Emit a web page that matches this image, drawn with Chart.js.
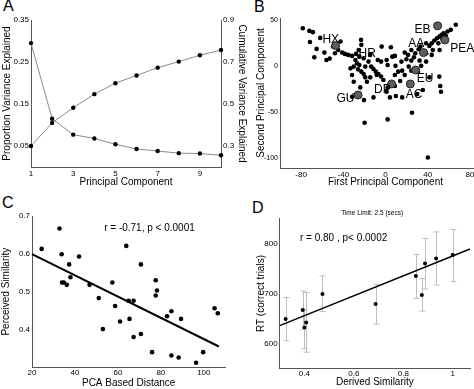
<!DOCTYPE html>
<html>
<head>
<meta charset="utf-8">
<script src="https://cdn.jsdelivr.net/npm/chart.js@4.4.0/dist/chart.umd.min.js"></script>
<style>
html, body { margin: 0; padding: 0; background: #fff; overflow: hidden; }
body { width: 474px; height: 389px; position: relative; font-family: 'Liberation Sans', Arial, sans-serif; }
canvas { position: absolute; }
.letter { position: absolute; font-size: 16px; line-height: 16px; color: #000; }
</style>
</head>
<body>
<div class="letter" style="left:3px;top:-2px">A</div>
<div class="letter" style="left:254px;top:-1px">B</div>
<div class="letter" style="left:2px;top:195px">C</div>
<div class="letter" style="left:252px;top:200px">D</div>

<canvas id="pa" width="250" height="195" style="left:0;top:0"></canvas>
<canvas id="pb" width="247" height="195" style="left:253px;top:0"></canvas>
<canvas id="pc" width="237" height="194" style="left:0;top:195px"></canvas>
<canvas id="pd" width="221" height="194" style="left:253px;top:195px"></canvas>

<script>
// A: variance explained per principal component
var components = [1, 2, 3, 4, 5, 6, 7, 8, 9, 10];
var propVariance = [0.295, 0.115, 0.077, 0.068, 0.054, 0.043, 0.038, 0.033, 0.032, 0.028];
var cumVariance = [0.30, 0.41, 0.482, 0.547, 0.599, 0.636, 0.673, 0.702, 0.732, 0.757];
var pcTicks = [1, 3, 5, 7, 9];
var propTicks = [0.05, 0.15, 0.25, 0.35];
var cumTicks = [0.3, 0.5, 0.7, 0.9];

// B: first vs second principal component
var pc1 = [-78.4, -72.2, -68.8, -71.6, -61.9, -65.3, -67.5, -57.9, -56.0, -52.9,
  -49.7, -42.6, -44.8, -41.0, -38.5, -35.4, -31.7, -27.9, -23.2, -22.9,
  -28.5, -27.0, -24.8, -30.1, -33.2, -26.0, -22.9, -20.7, -19.2, -31.7,
  -30.1, -24.8, -20.7, -16.1, -13.6, -11.4, -9.2, -6.7, -4.2, -2.0,
  -7.3, -4.2, -3.6, 5.1, 6.4, 8.9, 15.1, 18.2, 19.8, 9.5,
  12.0, 15.8, 18.2, 13.9, 8.9, 2.0, 4.2, 9.8, 15.8, 24.5,
  27.0, 28.2, 31.4, 33.2, 38.5, 41.6, 43.8, 46.3, 48.8, 51.0,
  53.2, 55.1, 58.8, 61.9, 66.6, 50.1, 51.3, 43.8, 38.5, 32.3,
  22.0, 24.5, 33.8, 41.6, 51.0, 51.9, 52.6, 35.4, 30.1, 25.1,
  2.0, -19.8, 40.1, -20.4, -11.4, -31.7, -23.9, -17.6, -14.5, 1.1,
  -8.3, -25.4, -14.5, 1.1, 2.0, 30.7, 8.9, -47.9, -19.2, 21.4,
  24.5, 44.8, 57.2, 54.1, 38.5];
var pc2 = [40.9, 38.0, 36.6, 26.0, 30.4, 18.4, 9.3, 14.4, 6.4, 7.9,
  21.0, 26.4, 17.3, 14.4, 13.0, 11.9, 10.8, 13.0, 28.2, 22.8,
  6.4, 2.8, 1.0, -0.8, -2.7, -3.8, -6.3, -8.8, -12.5, -9.9,
  -17.2, 10.0, 8.2, 4.6, -0.8, -3.4, -6.3, -8.8, -11.7, -15.4,
  6.4, 4.6, 20.9, 20.2, 10.0, 10.8, 4.6, 14.4, 7.1, 0.0,
  -6.3, -5.2, -9.9, -16.5, -21.9, -23.4, -34.3, -32.8, -34.3, 5.7,
  9.3, 13.7, 18.0, 20.9, 24.6, 21.7, 24.6, 27.5, 30.0, 31.8,
  33.7, 35.5, 37.3, 39.1, 44.6, 24.6, 17.3, 11.9, 4.6, 5.7,
  -0.8, -5.2, 0.0, -12.5, -11.7, -21.9, -28.1, -26.3, -30.6, -51.0,
  -58.2, -61.9, -99.6, -37.2, -34.3, -33.5, -23.4, -17.2, -12.5, -28.1,
  -9.9, 17.3, 11.9, 6.4, 1.0, -6.3, -9.9, 13.7, -0.8, 11.9,
  17.3, 17.3, 32.6, 28.9, 13.7];
var markedPc1 = [-47.3, 49.4, 36.0, 56.3, 28.5, -26.0, 5.8, 23.5];
var markedPc2 = [22.0, 43.5, 14.4, 28.2, -4.5, -31.7, -19.7, -19.7];
var odorNames = ['HX', 'HR', 'EB', 'AA', 'PEA', 'EU', 'GU', 'DP', 'AC'];
var odorNameX = [-51.9, -17.3, 35.1, 29.2, 72.8, 37.6, -37.9, -3.0, 27.0];
var odorNameY = [28.2, 13.0, 39.8, 24.2, 19.1, -13.6, -35.4, -25.5, -31.0];
var pc1Ticks = [-80, -40, 0, 40, 80];
var pc2Ticks = [-100, -50, 0, 50];

// C: PCA distance vs perceived similarity
var pcaDistance = [24.5, 32.8, 33.8, 37.3, 41.9, 37.9, 34.0, 34.8, 36.2, 46.8,
  51.1, 57.4, 58.7, 61.0, 53.0, 63.9, 65.0, 67.3, 65.4, 67.3,
  70.7, 70.7, 77.6, 78.2, 77.6, 75.9, 82.9, 84.9, 89.4, 84.9,
  88.3, 96.4, 99.7, 105.0, 106.5];
var perceived = [0.613, 0.667, 0.599, 0.572, 0.593, 0.538, 0.524, 0.524, 0.518, 0.518,
  0.483, 0.524, 0.462, 0.421, 0.401, 0.621, 0.476, 0.476, 0.428, 0.380,
  0.388, 0.572, 0.530, 0.503, 0.490, 0.340, 0.435, 0.448, 0.428, 0.331,
  0.326, 0.312, 0.340, 0.456, 0.443];
var distFitX = [20, 107];
var distFitY = [0.599, 0.355];
var distTicks = [20, 40, 60, 80, 100];
var simTicks = [0.4, 0.5, 0.6, 0.7];

// D: derived similarity vs reaction time
var derivedSim = [0.324, 0.393, 0.400, 0.407, 0.473, 0.688, 0.851, 0.875, 0.888, 0.933, 1.0];
var rtMean = [649, 667, 632, 642, 699, 679, 735, 697, 760, 770, 777];
var rtHigh = [692, 705, 668, 702, 735, 718, 778, 730, 810, 823, 828];
var rtLow = [606, 628, 590, 583, 664, 639, 690, 665, 709, 717, 724];
var rtFitX = [0.3, 1.07];
var rtFitY = [636, 789];
var derivedTicks = [0.4, 0.6, 0.8, 1];
var rtTicks = [600, 700, 800];

var FONT = "'Liberation Sans', Arial, sans-serif";
Chart.defaults.font.family = FONT;
Chart.defaults.color = '#000';

function toPoints(xs, ys) {
  var pts = [];
  for (var i = 0; i < xs.length; i++) {
    pts.push({x: xs[i], y: ys[i]});
  }
  return pts;
}

function fixedTicks(list) {
  return function(scale) {
    scale.ticks = list.map(function(v) { return {value: v}; });
  };
}

function fixWidth(w) {
  return function(scale) { scale.width = w; };
}

function fixHeight(h) {
  return function(scale) { scale.height = h; };
}

function makeAxis(o) {
  var ax = {
    type: 'linear',
    position: o.position,
    min: o.min,
    max: o.max,
    afterBuildTicks: fixedTicks(o.ticks),
    grid: {display: false, drawTicks: false},
    border: {display: true, color: '#555', width: 1},
    ticks: {
      font: {size: o.tickSize || 8},
      padding: o.tickPad,
      maxRotation: 0,
      autoSkip: false,
      callback: function(v) { return String(v); }
    },
    title: {
      display: true,
      text: o.title,
      font: {size: 10},
      padding: o.titlePad
    }
  };
  if (o.position == 'bottom') {
    ax.afterFit = fixHeight(o.size);
  } else {
    ax.afterFit = fixWidth(o.size);
  }
  return ax;
}

// draws plain text at data coordinates
function notesPlugin(id, notes) {
  return {
    id: id,
    afterDraw: function(chart) {
      var ctx = chart.ctx;
      ctx.save();
      for (var i = 0; i < notes.length; i++) {
        var n = notes[i];
        var xs = chart.scales[n.xAxis || 'x'];
        var ys = chart.scales[n.yAxis || 'y'];
        ctx.font = n.size + 'px ' + FONT;
        ctx.fillStyle = '#000';
        ctx.textAlign = n.align || 'center';
        ctx.textBaseline = 'middle';
        ctx.fillText(n.text, xs.getPixelForValue(n.x), ys.getPixelForValue(n.y));
      }
      ctx.restore();
    }
  };
}

var baseOptions = function(pad) {
  return {
    responsive: false,
    animation: false,
    events: [],
    layout: {padding: pad},
    plugins: {legend: {display: false}, tooltip: {enabled: false}, title: {display: false}}
  };
};

function drawPanelA() {
  var opts = baseOptions({top: 20, left: 0, right: 0, bottom: 0});
  opts.scales = {
    x: makeAxis({position: 'bottom', min: 1, max: 10, ticks: pcTicks, title: 'Principal Component',
      size: 28, tickPad: 2, titlePad: {top: 0, bottom: 6.3}}),
    y: makeAxis({position: 'left', min: 0, max: 0.35, ticks: propTicks, title: 'Proportion Variance Explained',
      size: 31, tickPad: 2, titlePad: {top: 1, bottom: 0}}),
    y2: makeAxis({position: 'right', min: 0.2, max: 0.9, ticks: cumTicks, title: 'Cumulative Variance Explained',
      size: 29, tickPad: 2, titlePad: {top: 2.5, bottom: 0}})
  };
  new Chart(document.getElementById('pa'), {
    type: 'scatter',
    data: {
      datasets: [{
        data: toPoints(components, propVariance),
        yAxisID: 'y',
        showLine: true,
        borderColor: '#8a8a8a',
        borderWidth: 1,
        pointRadius: 2.2,
        pointBackgroundColor: '#000',
        pointBorderColor: '#000',
        pointBorderWidth: 0,
        clip: false
      }, {
        data: toPoints(components, cumVariance),
        yAxisID: 'y2',
        showLine: true,
        borderColor: '#8a8a8a',
        borderWidth: 1,
        pointRadius: 2.2,
        pointBackgroundColor: '#000',
        pointBorderColor: '#000',
        pointBorderWidth: 0,
        clip: false
      }]
    },
    options: opts
  });
}

function drawPanelB() {
  var opts = baseOptions({top: 18, left: 0, right: 9, bottom: 0});
  opts.scales = {
    x: makeAxis({position: 'bottom', min: -100, max: 100, ticks: pc1Ticks, title: 'First Principal Component',
      size: 27, tickPad: 2, titlePad: {top: 0, bottom: 6.3}}),
    y: makeAxis({position: 'left', min: -111, max: 52, ticks: pc2Ticks, title: 'Second Principal Component',
      size: 27, tickPad: 2, tickSize: 7, titlePad: {top: 2, bottom: 0}})
  };
  var notes = [];
  for (var i = 0; i < odorNames.length; i++) {
    notes.push({text: odorNames[i], x: odorNameX[i], y: odorNameY[i], size: 12});
  }
  new Chart(document.getElementById('pb'), {
    type: 'scatter',
    data: {
      datasets: [{
        data: toPoints(markedPc1, markedPc2),
        order: 0,
        pointRadius: 4,
        pointBackgroundColor: '#5e5e5e',
        pointBorderColor: '#222',
        pointBorderWidth: 1,
        clip: false
      }, {
        data: toPoints(pc1, pc2),
        order: 1,
        pointRadius: 2.3,
        pointBackgroundColor: '#000',
        pointBorderColor: '#000',
        pointBorderWidth: 0,
        clip: false
      }]
    },
    options: opts,
    plugins: [notesPlugin('odorNames', notes)]
  });
}

function drawPanelC() {
  var opts = baseOptions({top: 21, left: 0, right: 11.7, bottom: 0});
  opts.scales = {
    x: makeAxis({position: 'bottom', min: 20, max: 110, ticks: distTicks, title: 'PCA Based Distance',
      size: 21.7, tickPad: 1, titlePad: {top: 0, bottom: 0}}),
    y: makeAxis({position: 'left', min: 0.3, max: 0.7, ticks: simTicks, title: 'Perceived Similarity',
      size: 32, tickPad: 2, titlePad: {top: 0.7, bottom: 0}})
  };
  new Chart(document.getElementById('pc'), {
    type: 'scatter',
    data: {
      datasets: [{
        data: toPoints(pcaDistance, perceived),
        pointRadius: 2.3,
        pointBackgroundColor: '#000',
        pointBorderColor: '#000',
        pointBorderWidth: 0,
        clip: false
      }, {
        data: toPoints(distFitX, distFitY),
        showLine: true,
        borderColor: '#000',
        borderWidth: 2,
        pointRadius: 0,
        clip: false
      }]
    },
    options: opts,
    plugins: [notesPlugin('statsC', [
      {text: 'r = -0.71, p < 0.0001', x: 53.6, y: 0.667, size: 10, align: 'left'}
    ])]
  });
}

var errorBars = {
  id: 'errorBars',
  beforeDatasetsDraw: function(chart) {
    var ctx = chart.ctx;
    var xs = chart.scales.x, ys = chart.scales.y;
    ctx.save();
    ctx.strokeStyle = '#bdbdbd';
    ctx.lineWidth = 1;
    for (var i = 0; i < derivedSim.length; i++) {
      var px = Math.round(xs.getPixelForValue(derivedSim[i])) + 0.5;
      var top = ys.getPixelForValue(rtHigh[i]);
      var bot = ys.getPixelForValue(rtLow[i]);
      ctx.beginPath();
      ctx.moveTo(px, top);
      ctx.lineTo(px, bot);
      ctx.moveTo(px - 3, top);
      ctx.lineTo(px + 3, top);
      ctx.moveTo(px - 3, bot);
      ctx.lineTo(px + 3, bot);
      ctx.stroke();
    }
    ctx.restore();
  }
};

function drawPanelD() {
  var opts = baseOptions({top: 23.4, left: 0, right: 0, bottom: 0});
  opts.scales = {
    x: makeAxis({position: 'bottom', min: 0.3, max: 1.07, ticks: derivedTicks, title: 'Derived Similarity',
      size: 20.3, tickPad: 0, titlePad: {top: 0, bottom: 0.5}}),
    y: makeAxis({position: 'left', min: 550, max: 850, ticks: rtTicks, title: 'RT (correct trials)',
      size: 26.7, tickPad: 2, titlePad: {top: 2.5, bottom: 0}})
  };
  new Chart(document.getElementById('pd'), {
    type: 'scatter',
    data: {
      datasets: [{
        data: toPoints(derivedSim, rtMean),
        pointRadius: 2,
        pointBackgroundColor: '#000',
        pointBorderColor: '#000',
        pointBorderWidth: 0,
        clip: false
      }, {
        data: toPoints(rtFitX, rtFitY),
        showLine: true,
        borderColor: '#000',
        borderWidth: 1.5,
        pointRadius: 0,
        clip: false
      }]
    },
    options: opts,
    plugins: [errorBars, notesPlugin('statsD', [
      {text: 'Time Limit: 2.5 (secs)', x: 0.674, y: 860, size: 6.5},
      {text: 'r = 0.80 , p< 0.0002', x: 0.382, y: 810, size: 10, align: 'left'}
    ])]
  });
}

function init() {
  drawPanelA();
  drawPanelB();
  drawPanelC();
  drawPanelD();
}

init();
</script>
</body>
</html>
